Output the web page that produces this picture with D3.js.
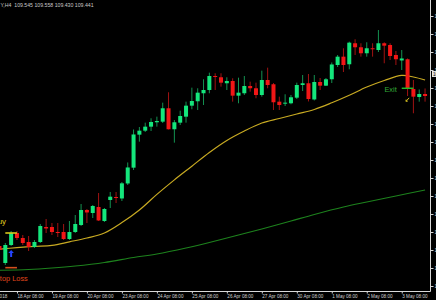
<!DOCTYPE html>
<html>
<head>
<meta charset="utf-8">
<script src="https://cdn.jsdelivr.net/npm/d3@7"></script>
<style>
  html, body { margin: 0; padding: 0; background: #000; overflow: hidden; }
  svg { display: block; }
</style>
</head>
<body>
<svg id="chart" width="436" height="300"></svg>
<script>
// H4 candles, bar index -1 is the partly hidden bar at the left edge
const barIndex = d3.range(-1, 73);
const opens  = [106.560,106.305,106.575,106.755,106.680,106.620,106.545,106.620,106.845,106.845,106.770,106.770,106.665,106.770,106.875,107.100,107.055,107.145,106.935,107.250,107.295,107.273,107.498,107.735,108.230,108.290,108.350,108.416,108.425,108.626,108.311,108.410,108.500,108.665,108.731,108.851,108.900,109.110,109.091,109.001,109.035,108.815,108.851,108.960,108.926,108.825,109.050,108.986,108.725,108.695,108.701,108.785,108.975,109.001,108.758,109.020,108.965,109.061,109.275,109.400,109.286,109.601,109.541,109.451,109.526,109.500,109.601,109.575,109.425,109.343,109.361,108.915,108.795,108.840];
const highs  = [106.590,106.605,106.785,106.785,106.725,106.710,106.650,106.890,106.965,106.905,106.905,106.890,106.935,107.025,107.190,107.115,107.175,107.355,107.130,107.370,107.370,107.520,107.813,108.308,108.345,108.410,108.476,108.500,108.710,108.866,108.450,108.590,108.725,108.935,108.926,109.061,109.160,109.151,109.151,109.091,109.076,109.085,109.110,109.025,109.010,109.190,109.235,109.005,108.800,108.836,108.825,109.010,109.125,109.140,109.125,109.080,109.080,109.313,109.425,109.526,109.625,109.661,109.601,109.616,109.601,109.800,109.616,109.601,109.485,109.500,109.373,109.050,108.908,108.923];
const lows   = [106.470,106.275,106.560,106.650,106.575,106.485,106.530,106.605,106.755,106.725,106.695,106.650,106.650,106.755,106.860,106.905,106.980,106.935,106.920,107.130,107.205,107.235,107.475,107.700,108.125,108.270,108.285,108.350,108.405,108.308,108.110,108.375,108.410,108.611,108.600,108.675,108.851,108.900,108.950,108.900,108.725,108.701,108.825,108.875,108.776,108.800,108.926,108.600,108.600,108.660,108.686,108.765,108.885,108.728,108.743,108.900,108.960,109.005,109.245,109.170,109.211,109.425,109.400,109.400,109.400,109.470,109.301,109.350,109.275,109.200,108.810,108.551,108.725,108.725];
const closes = [106.500,106.575,106.755,106.680,106.605,106.545,106.620,106.860,106.823,106.770,106.755,106.665,106.770,106.890,107.100,107.063,107.160,106.943,107.115,107.300,107.280,107.500,107.738,108.233,108.290,108.350,108.420,108.435,108.626,108.311,108.416,108.510,108.665,108.735,108.860,108.900,109.110,109.095,109.010,109.035,108.815,108.860,108.960,108.926,108.825,109.050,108.975,108.716,108.675,108.710,108.791,108.975,109.001,108.765,109.020,108.965,109.061,109.283,109.400,109.275,109.610,109.541,109.451,109.526,109.511,109.601,109.565,109.410,109.361,109.373,108.930,108.800,108.840,108.810];

// moving averages read at a few bars
const slowMaBars = [-1,2,5,8,11,14,17,20,23,26,29,32,35,38,41,44,47,50,53,56,59,62,65,68,70,72];
const slowMa = [106.512,106.535,106.554,106.568,106.623,106.680,106.755,106.911,107.100,107.334,107.552,107.757,107.963,108.143,108.285,108.405,108.473,108.540,108.608,108.708,108.821,108.944,109.043,109.118,109.095,109.050];
const longMaBars = [-1,4,8,12,17,22,26,31,35,40,44,49,53,58,62,67,72];
const longMa = [106.196,106.208,106.230,106.260,106.313,106.388,106.440,106.530,106.613,106.725,106.815,106.935,107.033,107.145,107.220,107.310,107.400];

// axis labels
const priceTicks = [110.010,109.740,109.470,109.200,108.930,108.660,108.390,108.120,107.850,107.580,107.310,107.040,106.770,106.500,106.230,105.960];
const dateTickBars = [-4,2,8,14,20,26,32,38,44,50,56,62,68];
const dateLabels = ["17 Apr 2018","18 Apr 08:00","19 Apr 08:00","20 Apr 08:00","23 Apr 08:00","24 Apr 08:00","25 Apr 08:00","26 Apr 08:00","27 Apr 08:00","30 Apr 08:00","1 May 08:00","2 May 08:00","3 May 08:00"];
const headerText = "Y,H4  109.545 109.558 109.430 109.441";
const markPrice = 109.140;

// trade marks
const entryBars = [0, 2], entryPrice = 106.755, stopPrice = 106.235;
const buyBar = 1, buyArrowPrice = 106.500;
const exitBars = [68, 70], exitPrice = 108.926;
const exitArrowBar = 69, exitArrowPrice = 108.758;

const FONT = "'Liberation Sans', Arial, sans-serif";
const GREEN = "#14e67c", RED = "#f21616";
const GREEN_WICK = "#139150", RED_WICK = "#a01212";

const svg = d3.select("#chart");
svg.selectAll("*").remove();
svg.append("rect").attr("width", 436).attr("height", 300).attr("fill", "#000");

const x = d3.scaleLinear().domain([0, 72]).range([5.3, 425.06]);
const y = d3.scaleLinear().domain([105.885, 110.25]).range([291, 0]);

svg.append("clipPath").attr("id", "plot")
  .append("rect").attr("x", 0).attr("y", 0).attr("width", 430).attr("height", 291);

const plot = svg.append("g").attr("clip-path", "url(#plot)");

// moving averages
const maLine = d3.line().x(d => x(d[0])).y(d => y(d[1])).curve(d3.curveCatmullRom);
plot.append("path")
  .attr("d", maLine(d3.zip(longMaBars, longMa)))
  .attr("fill", "none").attr("stroke", "#1d821d").attr("stroke-width", 1.1);
plot.append("path")
  .attr("d", maLine(d3.zip(slowMaBars, slowMa)))
  .attr("fill", "none").attr("stroke", "#c8aa22").attr("stroke-width", 1.2);

// candles
const candles = barIndex.map((k, i) => ({ k, o: opens[i], h: highs[i], l: lows[i], c: closes[i] }));
const g = plot.selectAll("g.candle").data(candles).join("g").attr("class", "candle");
g.append("line")
  .attr("x1", d => x(d.k)).attr("x2", d => x(d.k))
  .attr("y1", d => y(d.h)).attr("y2", d => y(d.l))
  .attr("stroke", d => d.c >= d.o ? GREEN_WICK : RED_WICK).attr("stroke-width", 1);
g.append("rect")
  .attr("x", d => x(d.k) - 2).attr("width", 4)
  .attr("y", d => y(Math.max(d.o, d.c)))
  .attr("height", d => Math.max(1, Math.abs(y(d.o) - y(d.c))))
  .attr("fill", d => d.c >= d.o ? GREEN : RED);

// trade marks
plot.append("line")
  .attr("x1", x(entryBars[0])).attr("x2", x(entryBars[1]))
  .attr("y1", y(entryPrice)).attr("y2", y(entryPrice))
  .attr("stroke", "#d6c61c").attr("stroke-width", 1.6);
plot.append("line")
  .attr("x1", x(entryBars[0])).attr("x2", x(entryBars[1]))
  .attr("y1", y(stopPrice)).attr("y2", y(stopPrice))
  .attr("stroke", "#d2501e").attr("stroke-width", 1.6);
plot.append("text")
  .attr("x", x(entryBars[0]) + 0.8).attr("y", y(entryPrice) - 9)
  .attr("text-anchor", "end").attr("font-family", FONT).attr("font-size", 8)
  .attr("fill", "#e0cc1e").text("Buy");
plot.append("text")
  .attr("x", x(entryBars[0]) - 10.4).attr("y", y(stopPrice) + 13.3)
  .attr("font-family", FONT).attr("font-size", 7.4)
  .attr("fill", "#e0461c").text("Stop Loss");

const bx = x(buyBar), by = y(buyArrowPrice);
plot.append("path")
  .attr("d", `M${bx},${by} l-2.8,3 h1.8 v4 h2 v-4 h1.8 z`)
  .attr("fill", "#2444ff");

plot.append("line")
  .attr("x1", x(exitBars[0])).attr("x2", x(exitBars[1]))
  .attr("y1", y(exitPrice)).attr("y2", y(exitPrice))
  .attr("stroke", "#24c02a").attr("stroke-width", 1.4);
plot.append("text")
  .attr("x", x(exitBars[0]) - 5).attr("y", y(exitPrice) + 3.6)
  .attr("text-anchor", "end").attr("font-family", FONT).attr("font-size", 7.4)
  .attr("fill", "#34aa38").text("Exit");
const ex = x(exitArrowBar), ey = y(exitArrowPrice);
plot.append("path")
  .attr("d", `M${ex - 1.5},${ey + 1.8} L${ex + 1.6},${ey - 1.6} M${ex - 1.5},${ey + 1.8} l0,-1.6 M${ex - 1.5},${ey + 1.8} l1.6,0`)
  .attr("fill", "none").attr("stroke", "#d8c020").attr("stroke-width", 1);

// frame
svg.append("line").attr("x1", 430.5).attr("x2", 430.5).attr("y1", 0).attr("y2", 291.5)
  .attr("stroke", "#d8d8d8").attr("stroke-width", 1);
svg.append("line").attr("x1", 0).attr("x2", 430.5).attr("y1", 291.5).attr("y2", 291.5)
  .attr("stroke", "#d8d8d8").attr("stroke-width", 1);

// price axis
const yAxis = svg.append("g").attr("transform", "translate(430.5,0)")
  .call(d3.axisRight(y).tickValues(priceTicks).tickSize(3).tickPadding(1).tickFormat(d3.format(".3f")));
yAxis.select(".domain").remove();
yAxis.selectAll("line").attr("stroke", "#d8d8d8");
yAxis.selectAll("text").attr("fill", "#d0d0d0").attr("font-family", FONT).attr("font-size", 4.6);

// marked price label
const mg = svg.append("g").attr("transform", `translate(432,${y(markPrice)})`);
mg.append("rect").attr("x", 0).attr("y", -3).attr("width", 20).attr("height", 6).attr("fill", "#e6e6e6");
mg.append("text").attr("x", 1).attr("y", 1.6).attr("font-family", FONT).attr("font-size", 4.6)
  .attr("fill", "#000").text(d3.format(".3f")(markPrice));

// time axis
const xAxis = svg.append("g").attr("transform", "translate(0,291.5)")
  .call(d3.axisBottom(x).tickValues(dateTickBars).tickSize(2).tickPadding(1)
    .tickFormat((d, i) => dateLabels[i]));
xAxis.select(".domain").remove();
xAxis.selectAll("line").attr("stroke", "#d8d8d8");
xAxis.selectAll("text").attr("text-anchor", "start").attr("fill", "#d0d0d0")
  .attr("font-family", FONT).attr("font-size", 4.6);

// header
svg.append("text").attr("x", 0.5).attr("y", 6.5)
  .attr("font-family", FONT).attr("font-size", 5.2).attr("fill", "#c8c8c8")
  .style("white-space", "pre")
  .text(headerText);
</script>
</body>
</html>
